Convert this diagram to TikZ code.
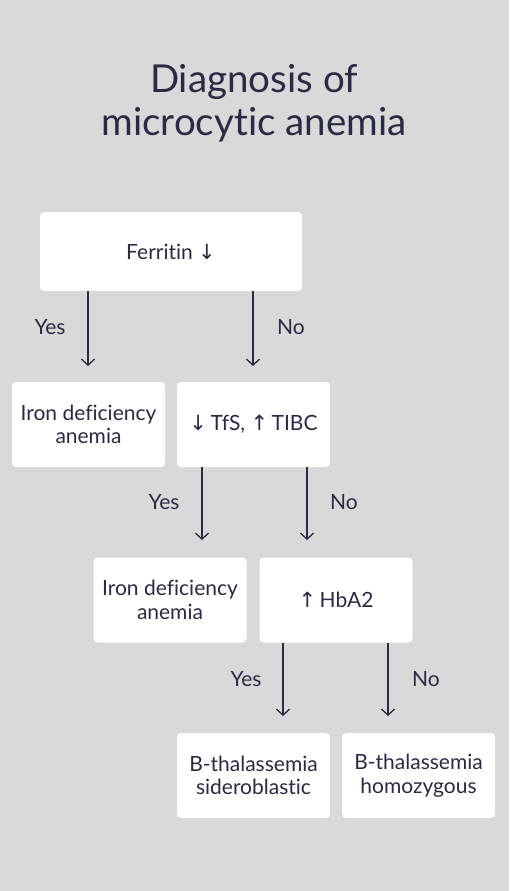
\documentclass[tikz,border=0pt]{standalone}
\usepackage{fontspec}
\setmainfont{Lato}[Ligatures=NoCommon]
\newfontfamily\arrowfont{DejaVu Sans}
\usetikzlibrary{arrows.meta}
\definecolor{bg}{RGB}{217,217,217}
\definecolor{ink}{RGB}{42,42,68}
\newcommand{\dn}{{\arrowfont\char"2193}}
\newcommand{\upa}{{\arrowfont\char"2191}}
\begin{document}
\begin{tikzpicture}[x=1pt,y=-1pt,
  box/.style={fill=white, rounded corners=4pt, minimum width=153pt, minimum height=85pt,
    inner sep=0pt, align=center, font=\fontsize{21}{23.5}\selectfont, text=ink},
  lbl/.style={font=\fontsize{21}{23.5}\selectfont, text=ink, inner sep=0pt},
  arr/.style={draw=ink, line width=1.3pt, -{Straight Barb[length=6pt,width=13pt]}}]
\fill[bg] (0,0) rectangle (509,891);
\useasboundingbox (0,0) rectangle (509,891);

\node[font=\fontsize{38.5}{43}\selectfont, text=ink, align=center] (title) at (254,103) {Diagnosis of\\microcytic anemia};

\node[box, minimum width=262pt, minimum height=79pt] (ferr) at (171,251.5) {Ferritin \dn};
\node[box] (ida1) at (88.5,424.5) {Iron deficiency\\anemia};
\node[box] (tfs) at (253.5,424.5) {\dn\,TfS, \upa\,TIBC};
\node[box] (ida2) at (170,600) {Iron deficiency\\anemia};
\node[box] (hba) at (336,600) {\upa\,HbA2};
\node[box] (sid) at (253.5,775.5) {B-thalassemia\\sideroblastic};
\node[box] (hom) at (418.5,775.5) {B-thalassemia\\homozygous};

\coordinate (t1) at (88,366);
\coordinate (t2) at (253,366);
\coordinate (t3) at (202,540);
\coordinate (t4) at (307,540);
\coordinate (t5) at (283,716);
\coordinate (t6) at (388,716);

\draw[arr] (ferr.south -| t1) -- (t1);
\draw[arr] (ferr.south -| t2) -- (t2);
\draw[arr] (tfs.south -| t3) -- (t3);
\draw[arr] (tfs.south -| t4) -- (t4);
\draw[arr] (hba.south -| t5) -- (t5);
\draw[arr] (hba.south -| t6) -- (t6);

\node[lbl] (y1) at (50,327) {Yes};
\node[lbl] (n1) at (291,327) {No};
\node[lbl] (y2) at (164,502) {Yes};
\node[lbl] (n2) at (344,502) {No};
\node[lbl] (y3) at (246,679) {Yes};
\node[lbl] (n3) at (426,679) {No};
\end{tikzpicture}
\end{document}
